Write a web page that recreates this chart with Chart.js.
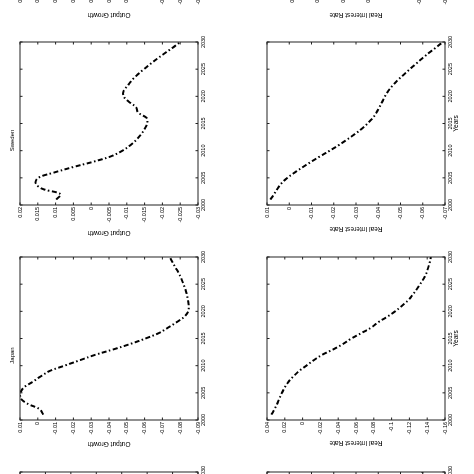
<!DOCTYPE html>
<html>
<head>
<meta charset="utf-8">
<script src="https://cdn.jsdelivr.net/npm/chart.js@4.4.1/dist/chart.umd.min.js"></script>
<style>
  html, body { margin: 0; padding: 0; width: 474px; height: 474px; overflow: hidden; background: #fff; }
  /* the whole figure is drawn upright and then turned a quarter turn, like the scan */
  #fig { position: absolute; left: 0; top: 0; width: 474px; height: 474px; overflow: hidden;
         background: #fff; transform: rotate(-90deg); transform-origin: 237px 237px; }
  .panel { position: absolute; width: 209px; height: 213px; }
</style>
</head>
<body>
<div id="fig"></div>
<script>
const years = [2001, 2002, 2003, 2004, 2005, 2006, 2007, 2008, 2009, 2010,
               2011, 2012, 2013, 2014, 2015, 2016, 2017, 2018, 2019, 2020,
               2021, 2022, 2023, 2024, 2025, 2026, 2027, 2028, 2029, 2030];
const yearTicks = [2000, 2005, 2010, 2015, 2020, 2025, 2030];

const japanOutput = [-0.0031, -0.0010, 0.0058, 0.0097, 0.0098, 0.0078, 0.0030, -0.0015, -0.0065, -0.0150,
                     -0.0236, -0.0323, -0.0425, -0.0520, -0.0605, -0.0680, -0.0732, -0.0780, -0.0823, -0.0845,
                     -0.0848, -0.0844, -0.0838, -0.0830, -0.0818, -0.0807, -0.0792, -0.0775, -0.0758, -0.0741];
const swedenOutput = [0.0098, 0.0086, 0.0138, 0.0156, 0.0149, 0.0103, 0.0050, -0.0008, -0.0057, -0.0088,
                      -0.0110, -0.0127, -0.0140, -0.0150, -0.0157, -0.0156, -0.0132, -0.0126, -0.0106, -0.0091,
                      -0.0091, -0.0103, -0.0115, -0.0130, -0.0148, -0.0167, -0.0187, -0.0208, -0.0230, -0.0250];
const japanRate = [0.0350, 0.0315, 0.0285, 0.0260, 0.0232, 0.0200, 0.0160, 0.0105, 0.0040, -0.0042,
                   -0.0125, -0.0220, -0.0345, -0.0455, -0.0547, -0.0660, -0.0770, -0.0850, -0.0950, -0.1040,
                   -0.1115, -0.1184, -0.1235, -0.1280, -0.1320, -0.1360, -0.1390, -0.1410, -0.1428, -0.1440];
const swedenRate = [0.0085, 0.0068, 0.0053, 0.0035, 0.0008, -0.0025, -0.0062, -0.0100, -0.0140, -0.0182,
                    -0.0222, -0.0258, -0.0293, -0.0325, -0.0352, -0.0375, -0.0392, -0.0405, -0.0418, -0.0430,
                    -0.0445, -0.0465, -0.0488, -0.0515, -0.0542, -0.0570, -0.0598, -0.0628, -0.0660, -0.0690];

// the panel cut off at the left edge only shows its last few years
const edgeYears = [2028, 2029, 2030];
const edgeRate = [-0.094, -0.097, -0.100];

const japanOutputTicks = [0.01, 0, -0.01, -0.02, -0.03, -0.04, -0.05, -0.06, -0.07, -0.08, -0.09];
const swedenOutputTicks = [0.02, 0.015, 0.01, 0.005, 0, -0.005, -0.01, -0.015, -0.02, -0.025, -0.03];
const japanRateTicks = [0.04, 0.02, 0, -0.02, -0.04, -0.06, -0.08, -0.1, -0.12, -0.14, -0.16];
const swedenRateTicks = [0.01, 0, -0.01, -0.02, -0.03, -0.04, -0.05, -0.06, -0.07];
const leftOutputTicks = [0.01, 0, -0.01, -0.02, -0.03, -0.04, -0.05, -0.06];
const leftRateTicks = [0.04, 0.02, 0, -0.02, -0.04, -0.06, -0.08, -0.1, -0.12];
const rightOutputTicks = [0.07, 0.06, 0.05, 0.04, 0.03, 0.02, 0.01, 0, -0.01, -0.02, -0.03];
const rightRateTicks = [0.1, 0.08, 0.06, 0.04, 0.02, 0, -0.02, -0.04];

Chart.defaults.font.family = '"Liberation Sans", Arial, sans-serif';
Chart.defaults.color = '#000';

// matlab style box with inward ticks on all four sides
const boxPlugin = {
  id: 'box',
  afterDraw(chart) {
    const { ctx, chartArea: a, scales } = chart;
    const t = 2.5;
    ctx.save();
    ctx.strokeStyle = '#222';
    ctx.lineWidth = 1;
    ctx.strokeRect(a.left, a.top, a.right - a.left, a.bottom - a.top);
    ctx.beginPath();
    scales.x.ticks.forEach(tk => {
      const px = scales.x.getPixelForValue(tk.value);
      ctx.moveTo(px, a.bottom); ctx.lineTo(px, a.bottom - t);
      ctx.moveTo(px, a.top); ctx.lineTo(px, a.top + t);
    });
    scales.y.ticks.forEach(tk => {
      const py = scales.y.getPixelForValue(tk.value);
      ctx.moveTo(a.left, py); ctx.lineTo(a.left + t, py);
      ctx.moveTo(a.right, py); ctx.lineTo(a.right - t, py);
    });
    ctx.stroke();
    ctx.restore();
  }
};

const fmt = v => String(+Number(v).toFixed(4));

function panel(left, top, cfg) {
  const div = document.createElement('div');
  div.className = 'panel';
  div.style.left = (left - 34) + 'px';
  div.style.top = (top - 20) + 'px';
  const cv = document.createElement('canvas');
  div.appendChild(cv);
  document.getElementById('fig').appendChild(div);

  const datasets = [];
  if (cfg.values) {
    datasets.push({
      data: cfg.xs.map((x, i) => ({ x: x, y: cfg.values[i] })),
      borderColor: '#000',
      borderWidth: 2,
      borderDash: [5, 2.5, 1.5, 2.5],
      pointRadius: 0,
      tension: 0.35,
      fill: false
    });
  }
  const yt = cfg.ticks;

  new Chart(cv, {
    type: 'line',
    data: { datasets: datasets },
    options: {
      responsive: true,
      maintainAspectRatio: false,
      animation: false,
      events: [],
      layout: { padding: { left: 0, right: 12, bottom: 0, top: cfg.title ? 0 : 20 } },
      plugins: {
        legend: { display: false },
        tooltip: { enabled: false },
        title: {
          display: !!cfg.title,
          text: cfg.title || '',
          font: { size: 6, weight: 'normal' },
          padding: { top: 9.1, bottom: 3.7 }
        }
      },
      scales: {
        x: {
          type: 'linear',
          min: 2000,
          max: 2030,
          afterBuildTicks: s => { s.ticks = yearTicks.map(v => ({ value: v })); },
          afterFit: s => { s.height = 15; },
          grid: { display: false, drawTicks: false },
          border: { display: false },
          ticks: { font: { size: 5.5 }, padding: 2, maxRotation: 0, autoSkip: false, callback: v => String(v) },
          title: { display: !!cfg.xTitle, text: cfg.xTitle || '', font: { size: 6.6 }, padding: { top: 0, bottom: 0 } }
        },
        y: {
          type: 'linear',
          min: yt[yt.length - 1],
          max: yt[0],
          afterBuildTicks: s => { s.ticks = yt.map(v => ({ value: v })); },
          afterFit: s => { s.width = 34; },
          grid: { display: false, drawTicks: false },
          border: { display: false },
          ticks: { font: { size: 5.5 }, padding: 2, autoSkip: false, callback: v => fmt(v) },
          title: { display: true, text: cfg.yTitle, font: { size: 6.6 }, padding: { top: cfg.titlePad, bottom: 0 } }
        }
      }
    },
    plugins: [boxPlugin]
  });
}

// upright layout: columns left-cut, Japan, Sweden, right-cut; rows output growth, real interest rate
panel(-161, 20, { ticks: leftOutputTicks, yTitle: 'Output Growth', titlePad: 6.7 });
panel(-161, 267, { ticks: leftRateTicks, yTitle: 'Real Interest Rate', titlePad: 7, xTitle: 'Years',
                   xs: edgeYears, values: edgeRate });
panel(54, 20, { title: 'Japan', ticks: japanOutputTicks, yTitle: 'Output Growth', titlePad: 6.7,
                xs: years, values: japanOutput });
panel(54, 267, { ticks: japanRateTicks, yTitle: 'Real Interest Rate', titlePad: 7, xTitle: 'Years',
                 xs: years, values: japanRate });
panel(269, 20, { title: 'Sweden', ticks: swedenOutputTicks, yTitle: 'Output Growth', titlePad: 2.3,
                 xs: years, values: swedenOutput });
panel(269, 267, { ticks: swedenRateTicks, yTitle: 'Real Interest Rate', titlePad: 6.7, xTitle: 'Years',
                  xs: years, values: swedenRate });
panel(484, 20, { ticks: rightOutputTicks, yTitle: 'Output Growth', titlePad: 5 });
panel(484, 267, { ticks: rightRateTicks, yTitle: 'Real Interest Rate', titlePad: 5, xTitle: 'Years' });
</script>
</body>
</html>
